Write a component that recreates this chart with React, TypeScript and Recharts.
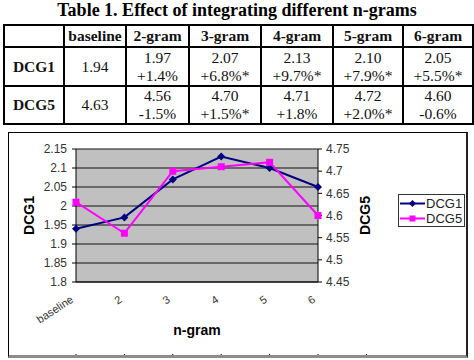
import React from 'react';
import { LineChart, Line, XAxis, YAxis, CartesianGrid, Legend } from 'recharts';

const categories = ['baseline', '2', '3', '4', '5', '6'];
const dcg1Values = [1.94, 1.97, 2.07, 2.13, 2.1, 2.05];
const dcg5Values = [4.63, 4.56, 4.7, 4.71, 4.72, 4.6];
const tableHeaders = ['baseline', '2-gram', '3-gram', '4-gram', '5-gram', '6-gram'];
const dcg1Text = ['1.94', '1.97', '2.07', '2.13', '2.10', '2.05'];
const dcg1Change = ['', '+1.4%', '+6.8%*', '+9.7%*', '+7.9%*', '+5.5%*'];
const dcg5Text = ['4.63', '4.56', '4.70', '4.71', '4.72', '4.60'];
const dcg5Change = ['', '-1.5%', '+1.5%*', '+1.8%', '+2.0%*', '-0.6%'];
const leftTicks = [1.8, 1.85, 1.9, 1.95, 2, 2.05, 2.1, 2.15];
const rightTicks = [4.45, 4.5, 4.55, 4.6, 4.65, 4.7, 4.75];
const boundaryTicks = [0, 1, 2, 3, 4, 5, 6];

const data = categories.map((c, i) => ({ name: c, DCG1: dcg1Values[i], DCG5: dcg5Values[i] }));

const SANS = "Arial, 'Liberation Sans', sans-serif";
const SERIF = "'Times New Roman', 'Liberation Serif', serif";
const NAVY = '#000080';
const MAGENTA = '#ff00ff';

const colWidths = [60, 62, 63, 72, 72, 70, 70];

const Diamond = (props: any) => {
  const { cx, cy } = props;
  if (cx == null || cy == null) return null;
  return <path d={`M${cx},${cy - 4}L${cx + 4},${cy}L${cx},${cy + 4}L${cx - 4},${cy}Z`} fill={NAVY} />;
};
const Square = (props: any) => {
  const { cx, cy } = props;
  if (cx == null || cy == null) return null;
  return <rect x={cx - 3.5} y={cy - 3.5} width={7} height={7} fill={MAGENTA} />;
};

const CatTick = (props: any) => {
  const { x, y, payload } = props;
  return (
    <g transform={`translate(${x - 4},${y + 8}) rotate(-33)`}>
      <text x={0} y={4} textAnchor="end" fontSize={11} fontFamily={SANS} fill="#333">
        {payload.value}
      </text>
    </g>
  );
};

const NoTick = () => <g />;

const fmt = (v: number) => String(Math.round(v * 100) / 100);

const LegendBox = () => (
  <div
    style={{
      width: 67,
      height: 33,
      border: '1px solid #333',
      background: '#fff',
      fontFamily: SANS,
      fontSize: 13,
      color: '#222',
      boxSizing: 'border-box',
    }}
  >
    {[
      { name: 'DCG1', color: NAVY, shape: 'diamond' },
      { name: 'DCG5', color: MAGENTA, shape: 'square' },
    ].map((e, i) => (
      <div key={e.name} style={{ display: 'flex', alignItems: 'center', height: 15, marginTop: i === 0 ? 1 : 0 }}>
        <svg width={27} height={15} style={{ display: 'block' }}>
          <line x1={1} y1={7.5} x2={26} y2={7.5} stroke={e.color} strokeWidth={2} />
          {e.shape === 'diamond' ? (
            <path d="M13.5,4L17,7.5L13.5,11L10,7.5Z" fill={e.color} />
          ) : (
            <rect x={10.5} y={4.5} width={6} height={6} fill={e.color} />
          )}
        </svg>
        <span style={{ lineHeight: '15px' }}>{e.name}</span>
      </div>
    ))}
  </div>
);

const cellStyle: React.CSSProperties = {
  border: '2px solid #000',
  textAlign: 'center',
  padding: 0,
  fontFamily: SERIF,
  fontSize: 15.5,
  lineHeight: '18px',
  color: '#111',
};

export default function App() {
  return (
    <div style={{ position: 'absolute', left: 0, top: 0, width: 474, height: 360, background: '#fff', overflow: 'hidden' }}>
      <div
        style={{
          position: 'absolute',
          left: 0,
          top: 0,
          width: 474,
          textAlign: 'center',
          fontFamily: SERIF,
          fontWeight: 'bold',
          fontSize: 18,
          lineHeight: '20px',
          color: '#000',
        }}
      >
        Table 1. Effect of integrating different n-grams
      </div>
      <table
        style={{
          position: 'absolute',
          left: 3,
          top: 24,
          borderCollapse: 'collapse',
          tableLayout: 'fixed',
          width: 469,
          border: '2px solid #000',
        }}
      >
        <colgroup>
          {colWidths.map((w, i) => (
            <col key={i} style={{ width: w }} />
          ))}
        </colgroup>
        <tbody>
          <tr style={{ height: 22 }}>
            <td style={cellStyle}></td>
            {tableHeaders.map((h) => (
              <td key={h} style={{ ...cellStyle, fontWeight: 'bold' }}>
                {h}
              </td>
            ))}
          </tr>
          <tr style={{ height: 39 }}>
            <td style={{ ...cellStyle, fontWeight: 'bold' }}>DCG1</td>
            {dcg1Text.map((t, i) => (
              <td key={i} style={cellStyle}>
                {t}
                {dcg1Change[i] ? <br /> : null}
                {dcg1Change[i]}
              </td>
            ))}
          </tr>
          <tr style={{ height: 38 }}>
            <td style={{ ...cellStyle, fontWeight: 'bold' }}>DCG5</td>
            {dcg5Text.map((t, i) => (
              <td key={i} style={cellStyle}>
                {t}
                {dcg5Change[i] ? <br /> : null}
                {dcg5Change[i]}
              </td>
            ))}
          </tr>
        </tbody>
      </table>
      <div
        style={{
          position: 'absolute',
          left: 8,
          top: 132,
          width: 460,
          height: 226,
          boxSizing: 'border-box',
          borderLeft: '1px solid #000',
          borderTop: '1px solid #000',
          borderRight: '2px solid #222',
          borderBottom: '3px solid #8c8c8c',
          background: '#fff',
        }}
      >
        <LineChart width={457} height={222} data={data} margin={{ top: 16, right: 88, bottom: 0, left: 0 }}>
          <CartesianGrid fill="#c0c0c0" vertical={false} stroke="#111" strokeOpacity={1} horizontalValues={leftTicks} />
          <XAxis
            xAxisId="bounds"
            type="number"
            domain={[0, 6]}
            ticks={boundaryTicks}
            tick={<NoTick />}
            height={1}
            axisLine={false}
            tickLine={{ stroke: '#000' }}
            tickSize={4}
            allowDataOverflow
          />
          <XAxis
            dataKey="name"
            height={72}
            interval={0}
            tick={<CatTick />}
            tickLine={false}
            axisLine={{ stroke: '#000' }}
            label={(p: any) => {
              const vb = p.viewBox || {};
              return (
                <text
                  x={vb.x + vb.width / 2}
                  y={vb.y + 53}
                  textAnchor="middle"
                  fontFamily={SANS}
                  fontWeight="bold"
                  fontSize={14}
                  fill="#000"
                >
                  n-gram
                </text>
              );
            }}
          />
          <YAxis
            width={67}
            domain={[1.8, 2.15]}
            ticks={leftTicks}
            tickFormatter={fmt}
            interval={0}
            tick={{ fontSize: 12, fontFamily: SANS, fill: '#333' }}
            tickSize={4}
            tickMargin={5}
            axisLine={{ stroke: '#000' }}
            tickLine={{ stroke: '#000' }}
            allowDataOverflow
            label={(p: any) => {
              const vb = p.viewBox || {};
              const cx = 20;
              const cy = vb.y + vb.height / 2;
              return (
                <text
                  x={cx}
                  y={cy}
                  transform={`rotate(-90, ${cx}, ${cy})`}
                  textAnchor="middle"
                  dominantBaseline="central"
                  fontFamily={SANS}
                  fontWeight="bold"
                  fontSize={14}
                  fill="#000"
                >
                  DCG1
                </text>
              );
            }}
          />
          <YAxis
            yAxisId="right"
            orientation="right"
            width={60}
            domain={[4.45, 4.75]}
            ticks={rightTicks}
            tickFormatter={fmt}
            interval={0}
            tick={{ fontSize: 12, fontFamily: SANS, fill: '#333' }}
            tickSize={4}
            tickMargin={4}
            axisLine={{ stroke: '#000' }}
            tickLine={{ stroke: '#000' }}
            allowDataOverflow
            label={(p: any) => {
              const vb = p.viewBox || {};
              const cx = vb.x + 47;
              const cy = vb.y + vb.height / 2;
              return (
                <text
                  x={cx}
                  y={cy}
                  transform={`rotate(-90, ${cx}, ${cy})`}
                  textAnchor="middle"
                  dominantBaseline="central"
                  fontFamily={SANS}
                  fontWeight="bold"
                  fontSize={14}
                  fill="#000"
                >
                  DCG5
                </text>
              );
            }}
          />
          <Line
            dataKey="DCG1"
            stroke={NAVY}
            strokeWidth={2}
            dot={<Diamond />}
            activeDot={false}
            isAnimationActive={false}
          />
          <Line
            dataKey="DCG5"
            yAxisId="right"
            stroke={MAGENTA}
            strokeWidth={2}
            dot={<Square />}
            activeDot={false}
            isAnimationActive={false}
          />
          <Legend
            layout="vertical"
            align="center"
            verticalAlign="middle"
            content={<LegendBox />}
            wrapperStyle={{ left: 389, top: 61, width: 67, height: 33 }}
          />
        </LineChart>
      </div>
    </div>
  );
}
